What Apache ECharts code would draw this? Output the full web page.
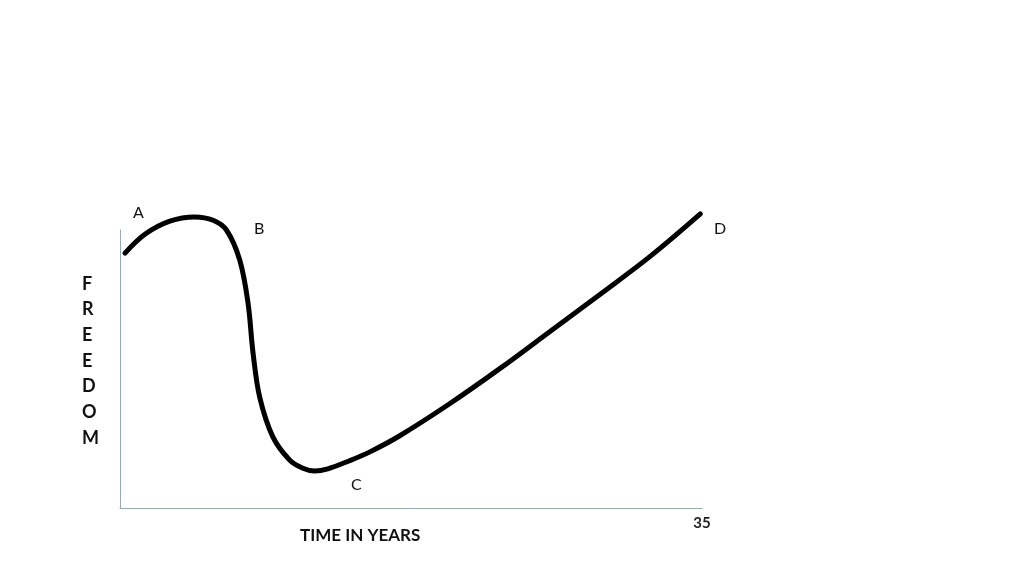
<!DOCTYPE html>
<html>
<head>
<meta charset="utf-8">
<script src="https://cdn.jsdelivr.net/npm/echarts@6/dist/echarts.min.js"></script>
<style>
  html, body { margin: 0; padding: 0; background: #fff; }
  #chart { width: 1024px; height: 576px; }
</style>
</head>
<body>
<div id="chart"></div>
<script>
// time (years) and freedom level
const years = [0.3, 1.5, 3.0, 4.5, 5.6, 6.4, 7.2, 7.7, 8.0, 8.4, 9.2, 10.2, 11.0, 11.7, 12.5, 13.8, 15.0, 16.8, 19.8, 22.9, 25.9, 28.9, 31.9, 34.9];
const freedom = [91.7, 98.5, 103.2, 104.7, 103.5, 100.0, 89.2, 73.7, 55.8, 39.9, 25.5, 17.3, 14.3, 13.3, 14.1, 17.0, 20.1, 25.9, 37.4, 50.4, 63.7, 77.0, 90.6, 105.8];
const xTickLabels = ['', '35'];
const yLetters = ['F', 'R', 'E', 'E', 'D', 'O', 'M'];

const chart = echarts.init(document.getElementById('chart'));

const option = {
  backgroundColor: '#fff',
  animation: false,
  grid: { left: 120, right: 322, top: 230, bottom: 68 },
  xAxis: {
    type: 'value',
    min: 0,
    max: 35,
    interval: 35,
    axisLine: { lineStyle: { color: '#8eadc4', width: 1 } },
    axisTick: { show: false },
    splitLine: { show: false },
    axisLabel: {
      formatter: (v) => xTickLabels[v / 35],
      color: '#222',
      fontFamily: 'Lato',
      fontWeight: 'bold',
      fontSize: 15,
      margin: 8
    }
  },
  yAxis: {
    type: 'value',
    min: 0,
    max: 100,
    axisLine: { show: true, lineStyle: { color: '#8eadc4', width: 1 } },
    axisTick: { show: false },
    axisLabel: { show: false },
    splitLine: { show: false }
  },
  series: [
    {
      type: 'line',
      data: years.map((t, i) => [t, freedom[i]]),
      smooth: 0.35,
      clip: false,
      showSymbol: false,
      lineStyle: { color: '#000', width: 5, cap: 'round' }
    }
  ],
  graphic: [
    { type: 'text', left: 133, top: 205, style: { text: 'A', fontFamily: 'Lato', fontSize: 16, fill: '#111' } },
    { type: 'text', left: 254, top: 221, style: { text: 'B', fontFamily: 'Lato', fontSize: 16, fill: '#111' } },
    { type: 'text', left: 351, top: 477, style: { text: 'C', fontFamily: 'Lato', fontSize: 16, fill: '#111' } },
    { type: 'text', left: 714, top: 221, style: { text: 'D', fontFamily: 'Lato', fontSize: 16, fill: '#111' } },
    { type: 'text', left: 300, top: 527, style: { text: 'TIME IN YEARS', fontFamily: 'Lato', fontWeight: 'bold', fontSize: 17, fill: '#111' } },
    {
      type: 'text', left: 82, top: 271,
      style: {
        text: yLetters.join('\n'),
        fontFamily: 'Lato', fontWeight: 'bold', fontSize: 18,
        lineHeight: 25.7, align: 'center', fill: '#111'
      }
    }
  ]
};

chart.setOption(option);
</script>
</body>
</html>
